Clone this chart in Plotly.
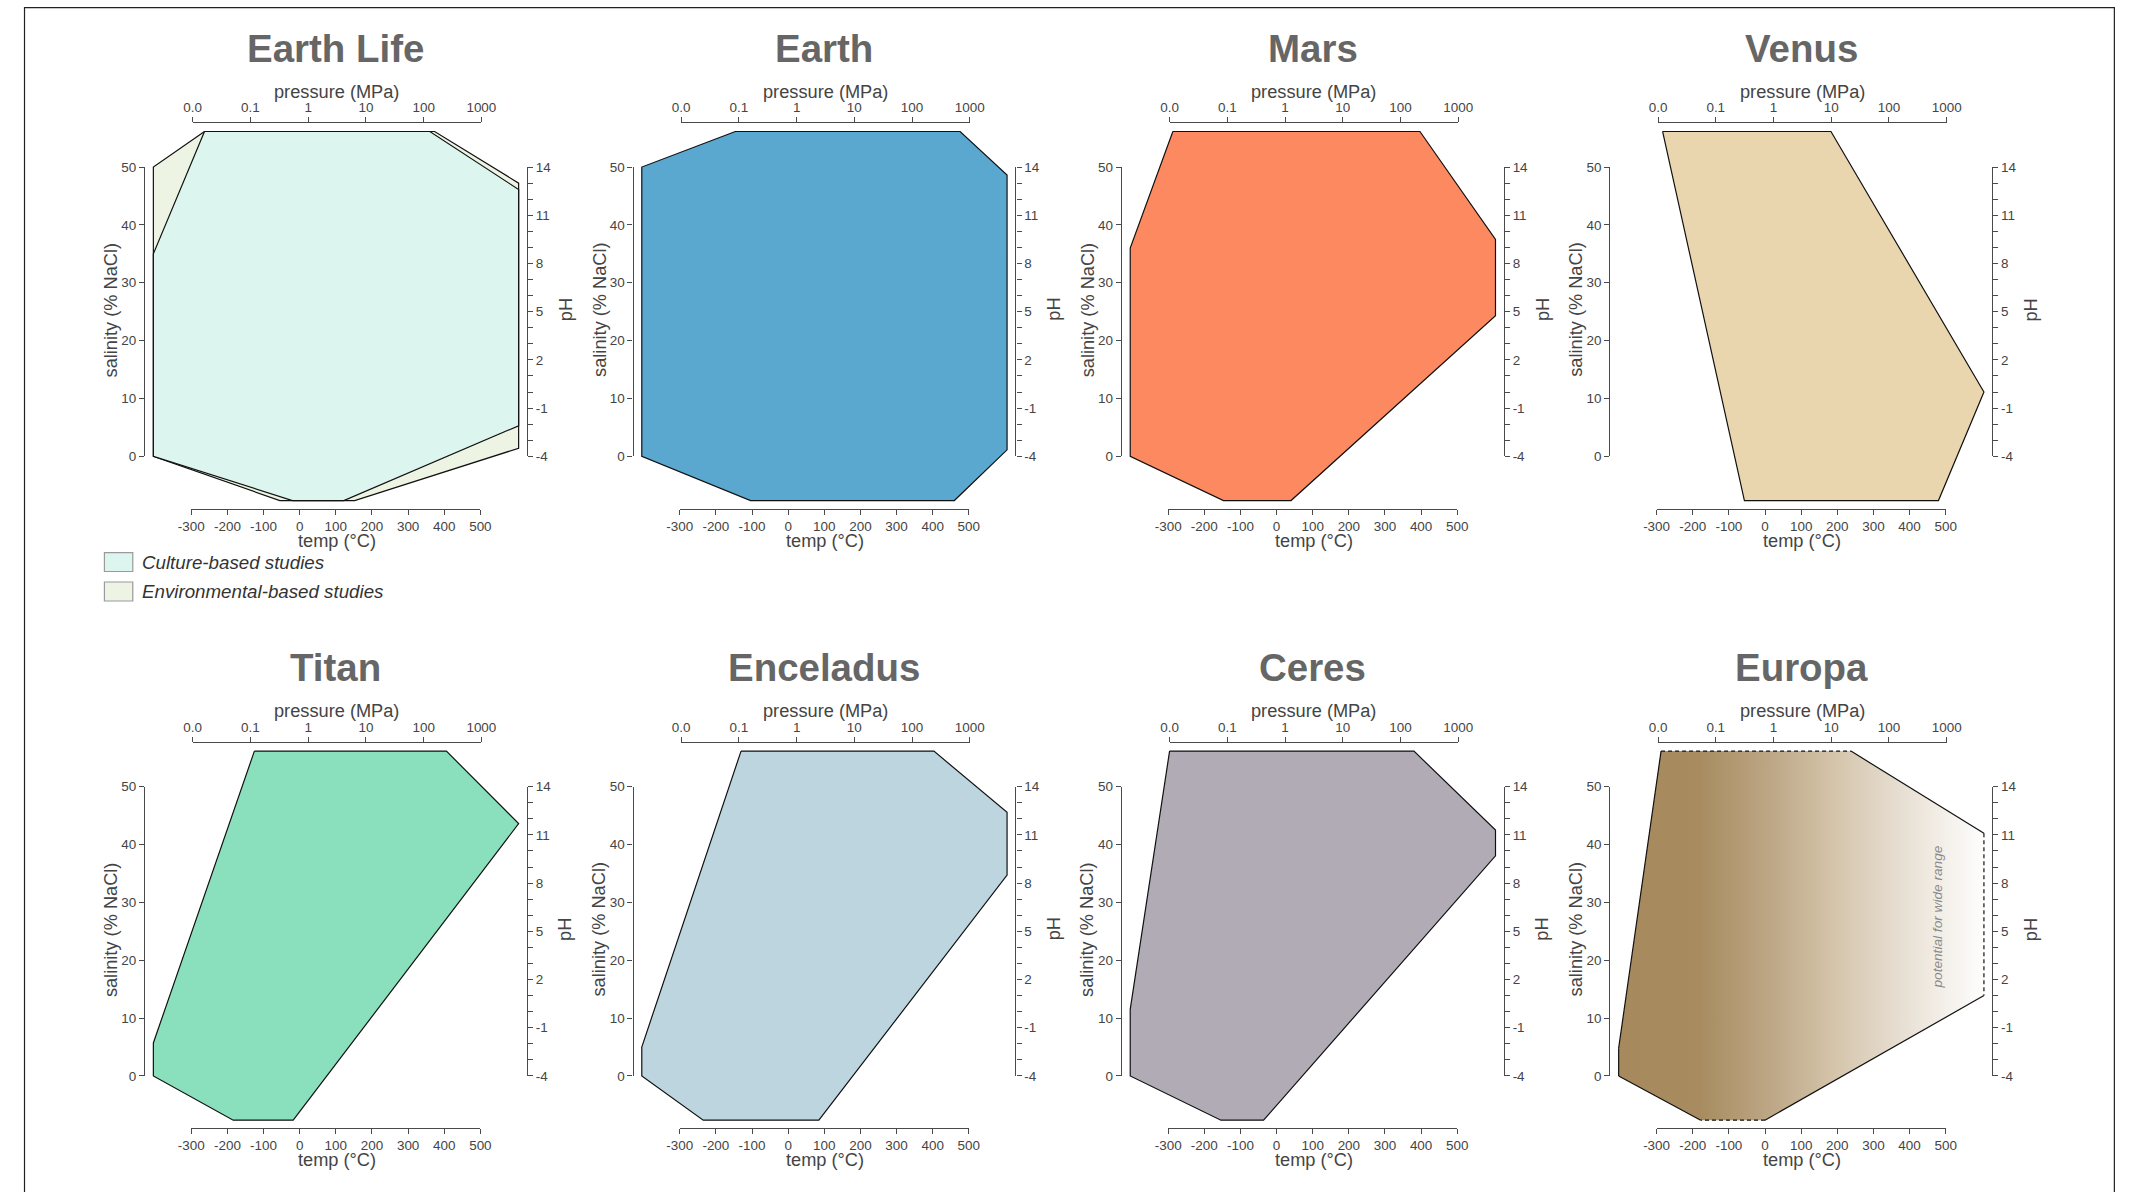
import math
import plotly.graph_objects as go

W, H = 2130, 1192
# the photographed page comes out slightly shrunk about its centre; pre-compensate positions
S = 0.988
CX, CY = W / 2, H / 2

# ---------------- data ----------------
panels = ["Earth Life", "Earth", "Mars", "Venus", "Titan", "Enceladus", "Ceres", "Europa"]
pressure_min = [0.016, 0.087, 0.0114, 0.012, 0.117, 0.109, 0.010, 0.0113]   # MPa
pressure_max = [128, 680, 217, 9.9, 248, 239, 171, 22]                      # MPa
ph_max = [12.6, 13.5, 9.5, 0.0, 11.7, 12.4, 11.3, 11.1]
ph_min = [-2.1, -3.6, 4.75, 0.0, 11.7, 8.5, 9.7, 1.0]
temp_max = [122, 460, 40, 480, -18, 85, -36, 0]                             # degC
temp_min = [-20, -104, -147, -57, -184, -235, -154, -178]                   # degC
sal_min = [0, 0, 0, None, 0, 0, 0, 0]                                       # % NaCl
sal_max = [35, 50, 36, None, 5.7, 5, 11.5, 4.8]

# Earth Life: environmental-based studies envelope
env_pressure = [0.016, 155]
env_ph = [13.0, -3.5]        # max, min
env_temp = [-55, 152]        # min, max
env_sal = [0, 50]            # min, max

fill_colors = ["#dcf5ef", "#5aa8d0", "#fd8960", "#e9d5ae", "#8ae0bd", "#bcd5df", "#b1abb6", "#a98d61"]
env_color = "#eef4e4"

temp_ticks = [-300, -200, -100, 0, 100, 200, 300, 400, 500]
sal_ticks = [0, 10, 20, 30, 40, 50]
ph_ticks = list(range(-4, 15))
ph_labels = [str(v) if (v + 4) % 3 == 0 else "" for v in ph_ticks]
press_ticks = [0.01, 0.1, 1, 10, 100, 1000]
press_labels = ["0.0", "0.1", "1", "10", "100", "1000"]

legend_labels = ["Culture-based studies", "Environmental-based studies"]

# ---------------- geometry (target pixels, panel 0) ----------------
COL_DX, ROW_DY = 489.0, 620.0
T0_PX, T1_PX = 191.3, 480.7
P0_PX, P1_PX = 192.7, 481.7
S50_PY, S0_PY = 167.3, 456.7
SAL_AX_PX, PH_AX_PX = 144.0, 527.3
PRESS_AX_PY, TEMP_AX_PY = 122.7, 509.0
POLY_L, POLY_R, POLY_T, POLY_B = 153.3, 519.0, 131.7, 501.0
HID_X = (138.0, 536.0)
HID_Y = (110.0, 522.0)

KX = (T1_PX - T0_PX) / 800.0
KY = (S0_PY - S50_PY) / 50.0
DEC = (P1_PX - P0_PX) / 5.0

FONT = "Liberation Sans, Arial, sans-serif"
AX = "#4a4a4a"
TXT = "#444444"


def fx(px):
    return (CX + (px - CX) / S) / W


def fy(py):
    return 1 - (CY + (py - CY) / S) / H


def fs(size):
    return size / S


def temp_of_px(px):
    return -300 + (px - T0_PX) / KX


def sal_of_py(py):
    return (S0_PY - py) / KY


X_LEFT, X_RIGHT = temp_of_px(POLY_L), temp_of_px(POLY_R)
Y_TOP, Y_BOT = sal_of_py(POLY_T), sal_of_py(POLY_B)


def press_to_x(p):
    return temp_of_px(P0_PX + (math.log10(p) + 2) * DEC)


def ph_to_y(ph):
    return (ph + 4) / 18.0 * 50.0


def polygon(pmin, pmax, phmax, phmin, tmax, tmin, smin, smax):
    pts = [(press_to_x(pmin), Y_TOP), (press_to_x(pmax), Y_TOP),
           (X_RIGHT, ph_to_y(phmax)), (X_RIGHT, ph_to_y(phmin)),
           (tmax, Y_BOT), (tmin, Y_BOT)]
    if smin is not None:
        pts += [(X_LEFT, smin), (X_LEFT, smax)]
    return pts


fig = go.Figure()
layout = {}
annotations = []
shapes = []


def axname(kind, n):
    return f"{kind}axis" if n == 1 else f"{kind}axis{n}"


def ref(kind, n):
    return kind if n == 1 else f"{kind}{n}"


def label(x, y, text, size, color, angle=0, **extra):
    d = dict(xref="paper", yref="paper", x=fx(x), y=fy(y), text=text, textangle=angle,
             showarrow=False, xanchor="center", yanchor="middle",
             font=dict(family=FONT, size=fs(size), color=color))
    d.update(extra)
    return d


common = dict(showgrid=False, zeroline=False, fixedrange=True, showline=True,
              linecolor=AX, linewidth=1.3, ticks="outside", ticklen=5, tickwidth=1.2,
              tickcolor=AX, tickfont=dict(family=FONT, size=fs(13.3), color=TXT))

for i, name in enumerate(panels):
    c, r = i % 4, i // 4
    dx, dy = c * COL_DX, r * ROW_DY
    b = 3 * i + 1
    # hidden drawing axes (temp units / salinity units)
    layout[axname("x", b)] = dict(domain=[fx(HID_X[0] + dx), fx(HID_X[1] + dx)],
                                  range=[temp_of_px(HID_X[0]), temp_of_px(HID_X[1])],
                                  visible=False, fixedrange=True, anchor=ref("y", b))
    layout[axname("y", b)] = dict(domain=[fy(HID_Y[1] + dy), fy(HID_Y[0] + dy)],
                                  range=[sal_of_py(HID_Y[1]), sal_of_py(HID_Y[0])],
                                  visible=False, fixedrange=True, anchor=ref("x", b))
    # temp (bottom) + salinity (left)
    layout[axname("x", b + 1)] = dict(common, domain=[fx(T0_PX + dx), fx(T1_PX + dx)], range=[-300, 500],
                                      anchor="free", position=fy(TEMP_AX_PY + dy), side="bottom",
                                      tickvals=temp_ticks, ticktext=[str(v) for v in temp_ticks])
    layout[axname("y", b + 1)] = dict(common, domain=[fy(S0_PY + dy), fy(S50_PY + dy)], range=[0, 50],
                                      anchor="free", position=fx(SAL_AX_PX + dx), side="left",
                                      tickvals=sal_ticks, ticktext=[str(v) for v in sal_ticks])
    # pressure (top) + pH (right)
    layout[axname("x", b + 2)] = dict(common, type="log", domain=[fx(P0_PX + dx), fx(P1_PX + dx)], range=[-2, 3],
                                      anchor="free", position=fy(PRESS_AX_PY + dy), side="top",
                                      tickvals=press_ticks, ticktext=press_labels)
    layout[axname("y", b + 2)] = dict(common, domain=[fy(S0_PY + dy), fy(S50_PY + dy)], range=[-4, 14],
                                      anchor="free", position=fx(PH_AX_PX + dx), side="right",
                                      tickvals=ph_ticks, ticktext=ph_labels)
    fig.add_trace(go.Scatter(x=[], y=[], xaxis=ref("x", b + 1), yaxis=ref("y", b + 1), showlegend=False))
    fig.add_trace(go.Scatter(x=[], y=[], xaxis=ref("x", b + 2), yaxis=ref("y", b + 2), showlegend=False))

    xr, yr = ref("x", b), ref("y", b)
    if name == "Earth Life":
        pts = polygon(env_pressure[0], env_pressure[1], env_ph[0], env_ph[1],
                      env_temp[1], env_temp[0], env_sal[0], env_sal[1])
        fig.add_trace(go.Scatter(x=[p[0] for p in pts] + [pts[0][0]], y=[p[1] for p in pts] + [pts[0][1]],
                                 mode="lines", fill="toself", fillcolor=env_color,
                                 line=dict(color="#111", width=1.2), xaxis=xr, yaxis=yr,
                                 hoverinfo="skip", showlegend=False))
    pts = polygon(pressure_min[i], pressure_max[i], ph_max[i], ph_min[i],
                  temp_max[i], temp_min[i], sal_min[i], sal_max[i])
    xs = [p[0] for p in pts] + [pts[0][0]]
    ys = [p[1] for p in pts] + [pts[0][1]]
    if name == "Europa":
        fig.add_trace(go.Scatter(x=xs, y=ys, mode="lines", fill="toself",
                                 fillgradient=dict(type="horizontal", start=X_LEFT, stop=X_RIGHT,
                                                   colorscale=[[0, "#a68a5e"], [0.22, "#a88c60"],
                                                               [0.42, "#bea888"], [0.58, "#d4c4aa"],
                                                               [0.75, "#e6ddd0"], [0.885, "#f4f0ea"],
                                                               [1, "#ffffff"]]),
                                 line=dict(width=0), xaxis=xr, yaxis=yr, hoverinfo="skip", showlegend=False))
        # edges: dashed along pressure, pH and temp limits
        dashed = {0, 2, 4}
        for k in range(len(pts)):
            a, bb = pts[k], pts[(k + 1) % len(pts)]
            fig.add_trace(go.Scatter(x=[a[0], bb[0]], y=[a[1], bb[1]], mode="lines",
                                     line=dict(color="#111", width=1.2,
                                               dash="4px,3px" if k in dashed else "solid"),
                                     xaxis=xr, yaxis=yr, hoverinfo="skip", showlegend=False))
        annotations.append(dict(xref=xr, yref=yr, x=478, y=27.5, text="potential for wide range",
                                textangle=-90, showarrow=False, xanchor="center", yanchor="middle",
                                font=dict(family=FONT, size=fs(13.5), color="#8a8a8a", style="italic")))
    else:
        fig.add_trace(go.Scatter(x=xs, y=ys, mode="lines", fill="toself", fillcolor=fill_colors[i],
                                 line=dict(color="#111", width=1.2), xaxis=xr, yaxis=yr,
                                 hoverinfo="skip", showlegend=False))

    # titles / axis labels
    annotations.append(label(336 + dx, 48.3 + dy, f"<b>{name}</b>", 38, "#666666"))
    annotations.append(label(337 + dx, 92 + dy, "pressure (MPa)", 18, TXT))
    annotations.append(label(337 + dx, 541 + dy, "temp (°C)", 18, TXT))
    annotations.append(label(110.7 + dx, 310 + dy, "salinity (% NaCl)", 18, TXT, angle=-90))
    annotations.append(label(566 + dx, 310 + dy, "pH", 18, TXT, angle=-90))

# legend (manual)
leg_fills = [fill_colors[0], env_color]
for k, lab in enumerate(legend_labels):
    y0 = 553.0 + k * 29.5
    shapes.append(dict(type="rect", xref="paper", yref="paper", x0=fx(104.3), x1=fx(132.7),
                       y0=fy(y0), y1=fy(y0 + 19), fillcolor=leg_fills[k], line=dict(color="#9a9a9a", width=1.2)))
    annotations.append(dict(xref="paper", yref="paper", x=fx(139.5), y=fy(y0 + 9.5), text=lab,
                            xanchor="left", yanchor="middle", showarrow=False,
                            font=dict(family=FONT, size=fs(18.5), color="#333333", style="italic")))

# outer frame
shapes.append(dict(type="rect", xref="paper", yref="paper", x0=fx(24.3), x1=min(fx(2125.5), 0.9997),
                   y0=-0.02, y1=min(fy(4.3), 0.9995),
                   line=dict(color="#222222", width=1.2), fillcolor="rgba(0,0,0,0)", layer="below"))

fig.update_layout(width=W, height=H, margin=dict(l=0, r=0, t=0, b=0), autosize=False,
                  paper_bgcolor="white", plot_bgcolor="rgba(0,0,0,0)",
                  annotations=annotations, shapes=shapes, showlegend=False, **layout)

fig.write_html("out.html", config={"displayModeBar": False},
               post_script="document.body.style.margin='0';document.body.style.overflow='hidden';")
